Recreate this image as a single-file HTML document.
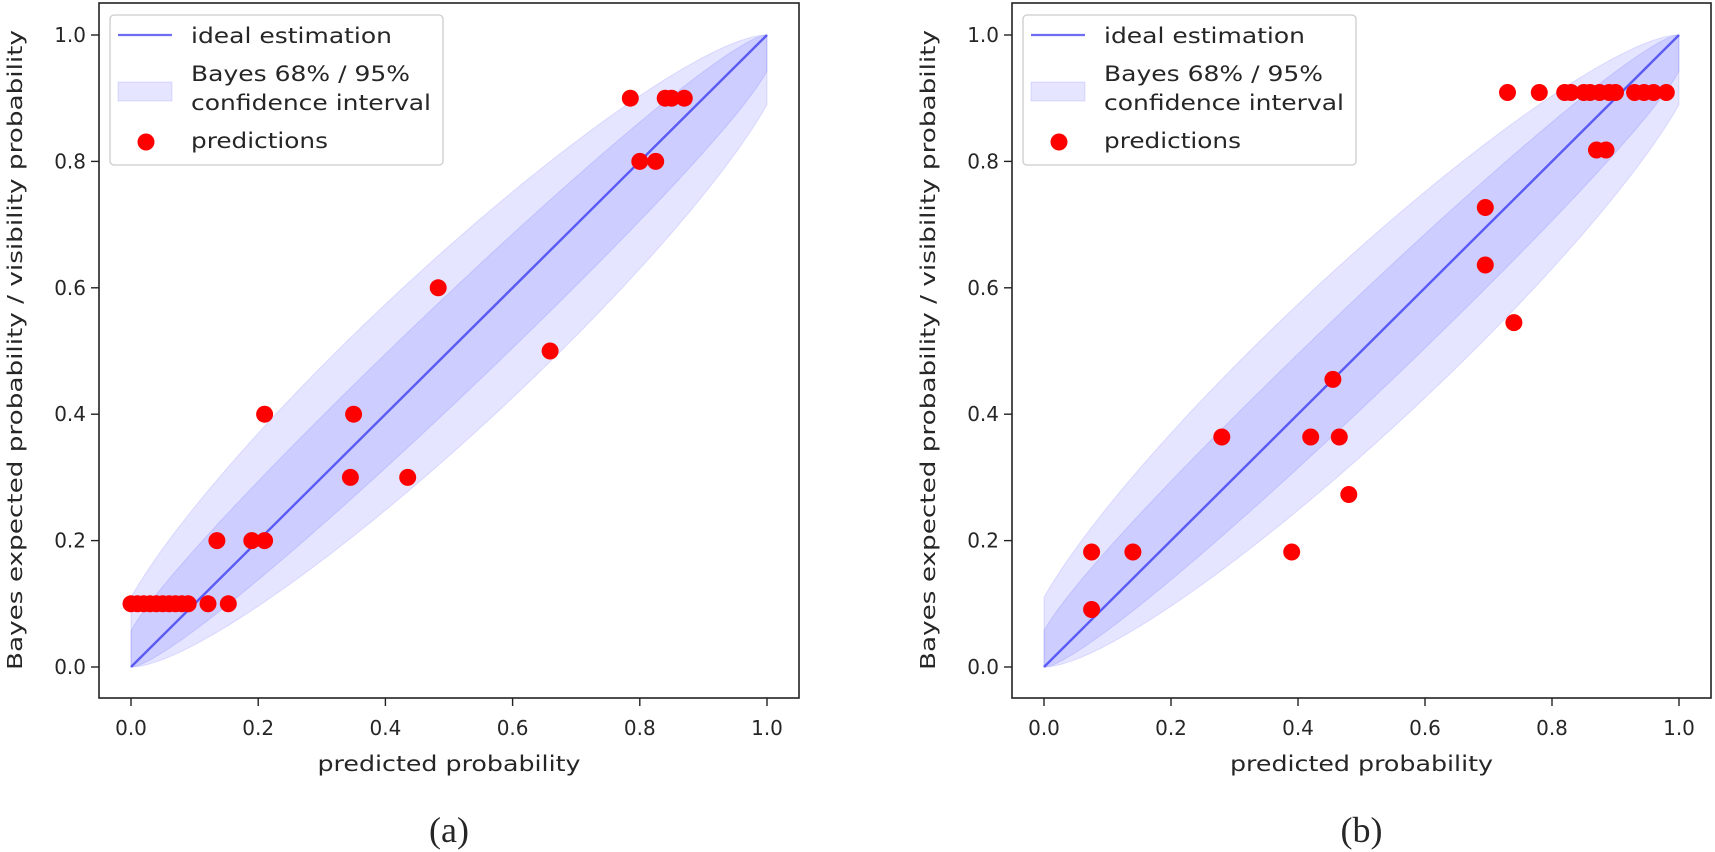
<!DOCTYPE html>
<html><head><meta charset="utf-8"><style>
html,body{margin:0;padding:0;background:#fff;}
svg{display:block;}
text{font-family:"DejaVu Sans","Liberation Sans",sans-serif;fill:#262626;}
</style></head><body>
<svg id="s" width="1715" height="852" xmlns="http://www.w3.org/2000/svg"></svg>
<script>
const S=document.getElementById('s');
let h='';
function wil(x,z,n){const z2=z*z/n;const c=(x+z2/2)/(1+z2);const hw=z/(1+z2)*Math.sqrt(x*(1-x)/n+z*z/(4*n*n));return [Math.max(0,c-hw),Math.min(1,c+hw)];}
function plot(o){
 const X=v=>o.x0+v*(o.x1-o.x0), Y=v=>667-v*632;
 const L=o.x0-32,R=o.x1+32,T=3,B=698;
 for(const z of [1.96,1.0]){
  let up=[],lo=[];
  for(let i=0;i<=200;i++){const x=i/200;const w=wil(x,z,31);
   let u=w[1],l=w[0];
   if(z<1.5){u=Math.min(1,u+0.026*Math.pow(1-x,3));l=Math.max(0,l-0.026*Math.pow(x,3));}
   up.push(X(x).toFixed(1)+','+Y(u).toFixed(1));lo.push(X(x).toFixed(1)+','+Y(l).toFixed(1));}
  h+=`<polygon points="${up.join(' ')} ${lo.reverse().join(' ')}" fill="rgb(0,0,255)" fill-opacity="0.1" stroke="rgb(0,0,255)" stroke-opacity="0.1" stroke-width="1"/>`;
 }
 h+=`<line x1="${X(0)}" y1="${Y(0)}" x2="${X(1)}" y2="${Y(1)}" stroke="rgb(90,90,245)" stroke-width="2.4"/>`;
 for(const p of o.pts){h+=`<circle cx="${X(p[0]).toFixed(1)}" cy="${Y(p[1]).toFixed(1)}" r="8.5" fill="#ff0000"/>`;}
 h+=`<rect x="${L}" y="${T}" width="${R-L}" height="${B-T}" fill="none" stroke="#222" stroke-width="1.6"/>`;
 for(let i=0;i<=5;i++){const v=i/5;const t=v.toFixed(1);
  h+=`<line x1="${X(v)}" y1="${B}" x2="${X(v)}" y2="${B+8}" stroke="#222" stroke-width="1.4"/>`;
  h+=`<text x="${X(v)}" y="735" font-size="20" text-anchor="middle">${t}</text>`;
  h+=`<line x1="${L-8}" y1="${Y(v)}" x2="${L}" y2="${Y(v)}" stroke="#222" stroke-width="1.4"/>`;
  h+=`<text x="${L-13}" y="${Y(v)+7}" font-size="20" text-anchor="end">${t}</text>`;}
 h+=`<text x="${(L+R)/2}" y="771" font-size="21" text-anchor="middle" textLength="263" lengthAdjust="spacingAndGlyphs">predicted probability</text>`;
 h+=`<text transform="translate(${L-77},350) rotate(-90)" font-size="20" text-anchor="middle" textLength="640" lengthAdjust="spacingAndGlyphs">Bayes expected probability / visibility probability</text>`;
 h+=`<text x="${(L+R)/2}" y="842" font-size="36" text-anchor="middle" style="font-family:'Liberation Serif',serif">${o.lab}</text>`;
 const lx=L+11;
 h+=`<rect x="${lx}" y="15" width="333" height="150" rx="4" fill="#fff" fill-opacity="0.8" stroke="#ccc" stroke-width="1.3"/>`;
 h+=`<line x1="${lx+8}" y1="35" x2="${lx+62}" y2="35" stroke="rgb(110,110,245)" stroke-width="2.2"/>`;
 h+=`<rect x="${lx+8}" y="82" width="54" height="19" fill="rgb(0,0,255)" fill-opacity="0.1" stroke="rgb(0,0,255)" stroke-opacity="0.1"/>`;
 h+=`<circle cx="${lx+36}" cy="142" r="8.5" fill="#ff0000"/>`;
 h+=`<text x="${lx+81}" y="43" font-size="21" textLength="201" lengthAdjust="spacingAndGlyphs">ideal estimation</text>`;
 h+=`<text x="${lx+81}" y="81" font-size="21" textLength="219" lengthAdjust="spacingAndGlyphs">Bayes 68% / 95%</text>`;
 h+=`<text x="${lx+81}" y="110" font-size="21" textLength="240" lengthAdjust="spacingAndGlyphs">confidence interval</text>`;
 h+=`<text x="${lx+81}" y="148" font-size="21" textLength="137" lengthAdjust="spacingAndGlyphs">predictions</text>`;
}
const A=[];
for(let x=0;x<=0.09;x+=0.01)A.push([x,0.1]);
A.push([0.121,0.1],[0.153,0.1],[0.135,0.2],[0.19,0.2],[0.21,0.2],[0.21,0.4],[0.35,0.4],[0.345,0.3],[0.435,0.3],[0.483,0.6],[0.659,0.5],[0.785,0.9],[0.84,0.9],[0.85,0.9],[0.87,0.9],[0.8,0.8],[0.825,0.8]);
const Bp=[[0.075,0.182],[0.14,0.182],[0.075,0.091],[0.28,0.364],[0.42,0.364],[0.465,0.364],[0.39,0.182],[0.455,0.455],[0.48,0.273],[0.695,0.727],[0.695,0.636],[0.74,0.545],[0.87,0.818],[0.885,0.818]];
for(const x of [0.73,0.78,0.82,0.83,0.85,0.86,0.875,0.89,0.9,0.93,0.945,0.96,0.98])Bp.push([x,0.909]);
plot({x0:131,x1:767,pts:A,lab:'(a)'});
plot({x0:1044,x1:1679,pts:Bp,lab:'(b)'});
S.innerHTML=h;
</script>
</body></html>
